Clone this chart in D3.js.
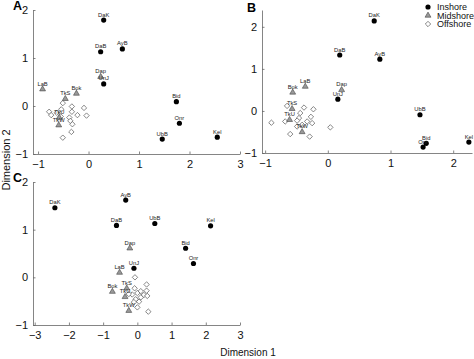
<!DOCTYPE html>
<html><head><meta charset="utf-8">
<script src="https://cdn.jsdelivr.net/npm/d3@7"></script>
<style>body{margin:0;background:#fff}svg{display:block;font-family:"Liberation Sans",Arial,sans-serif}</style>
</head><body><svg id="c" width="474" height="359"></svg>
<script>
// ---- data ----
const inshoreNames = ["DaK","DaB","AyB","UnJ","Bid","Onr","UbB","Kel"];
const midshoreNames = ["Dap","LaB","Bok","TkS","TkU","TkW"];

const aInshore = [[0.30,1.79],[0.24,1.13],[0.67,1.19],[0.30,0.46],[1.74,0.09],[1.80,-0.36],[1.46,-0.69],[2.55,-0.65]];
const aMidshore = [[0.24,0.61],[-0.91,0.35],[-0.24,0.26],[-0.46,0.15],[-0.58,-0.24],[-0.59,-0.40]];
const aOffshore = [[-0.51,0.06],[-0.33,-0.01],[-0.09,-0.04],[-0.78,-0.12],[-0.54,-0.07],[-0.33,-0.12],[-0.22,-0.19],[-0.04,-0.20],[-0.74,-0.19],[-0.55,-0.22],[-0.38,-0.24],[-0.36,-0.31],[-0.32,-0.38],[-0.34,-0.54],[-0.51,-0.66],[-0.63,-0.14]];

const bInshore = [[0.74,2.14],[0.19,1.33],[0.83,1.23],[0.16,0.28],[1.57,-0.77],[1.52,-0.86],[1.47,-0.09],[2.25,-0.74]];
const bMidshore = [[0.22,0.50],[-0.36,0.58],[-0.56,0.44],[-0.57,0.05],[-0.61,-0.21],[-0.41,-0.50]];
const bOffshore = [[-0.90,-0.28],[-0.65,0.12],[-0.38,0.08],[-0.23,0.04],[-0.68,-0.25],[-0.44,-0.05],[-0.46,-0.17],[-0.49,-0.23],[-0.27,-0.14],[-0.33,-0.25],[-0.25,-0.29],[-0.60,-0.55],[-0.29,-0.61],[0.04,-0.39],[-0.49,-0.37],[-0.41,-0.33]];

const cInshore = [[-2.41,1.46],[-0.61,1.09],[-0.34,1.62],[-0.10,0.19],[1.41,0.61],[1.64,0.29],[0.51,1.13],[2.14,1.08]];
const cMidshore = [[-0.22,0.61],[-0.52,0.10],[-0.73,-0.30],[-0.31,-0.23],[-0.36,-0.41],[-0.25,-0.70]];
const cOffshore = [[-0.07,0.00],[0.27,-0.15],[-0.08,-0.23],[0.10,-0.29],[0.27,-0.28],[0.00,-0.33],[-0.15,-0.36],[0.19,-0.37],[0.29,-0.39],[0.10,-0.42],[-0.05,-0.46],[0.05,-0.51],[-0.10,-0.52],[0.00,-0.63],[0.32,-0.72],[-0.25,-0.35]];

const aXTicks = [-1,0,1,2,3], aYTicks = [-1,0,1,2];
const bXTicks = [-1,0,1,2], bYTicks = [-1,0,1,2];
const cXTicks = [-3,-2,-1,0,1,2,3], cYTicks = [-1,0,1,2];
const legendLabels = ["Inshore","Midshore","Offshore"];

// ---- layout ----
const svg = d3.select("#c");
const panels = [
  {letter:"A", ins:aInshore, mid:aMidshore, off:aOffshore, xd:[-1.1,3], xr:[33,240], yd:[-1,2], yr:[154,10], xt:aXTicks, yt:aYTicks, lx:13, ly:10},
  {letter:"B", ins:bInshore, mid:bMidshore, off:bOffshore, xd:[-1.05,2.3], xr:[262,472], yd:[-1,2.4], yr:[153,10], xt:bXTicks, yt:bYTicks, lx:247, ly:12},
  {letter:"C", ins:cInshore, mid:cMidshore, off:cOffshore, xd:[-3.05,3], xr:[33,240], yd:[-1,2], yr:[325,182], xt:cXTicks, yt:cYTicks, lx:13, ly:182}
];

const fmt = d => d < 0 ? "\u2212" + Math.abs(d) : String(d);
const circlePath = d3.symbol().type(d3.symbolCircle).size(21)();
const triPath = d3.symbol().type(d3.symbolTriangle).size(15)();
const diamondPath = "M0,-2.7L2.7,0L0,2.7L-2.7,0Z";

function drawMarker(g, kind, x, y) {
  if (kind === "off") g.append("path").attr("d", diamondPath).attr("transform", `translate(${x},${y})`).attr("fill","#fff").attr("stroke","#555").attr("stroke-width",0.7);
  else if (kind === "mid") g.append("path").attr("d", triPath).attr("transform", `translate(${x},${y})`).attr("fill","#999").attr("stroke","#444").attr("stroke-width",0.6);
  else g.append("path").attr("d", circlePath).attr("transform", `translate(${x},${y})`).attr("fill","#000");
}

panels.forEach(p => {
  const x = d3.scaleLinear().domain(p.xd).range(p.xr);
  const y = d3.scaleLinear().domain(p.yd).range(p.yr);
  const g = svg.append("g");
  const xa = g.append("g").attr("transform", `translate(0,${p.yr[0]})`)
    .call(d3.axisBottom(x).tickValues(p.xt).tickFormat(fmt).tickSizeInner(-2.5).tickSizeOuter(0).tickPadding(6));
  const ya = g.append("g").attr("transform", `translate(${p.xr[0]},0)`)
    .call(d3.axisLeft(y).tickValues(p.yt).tickFormat(fmt).tickSizeInner(-2.5).tickSizeOuter(0).tickPadding(5));
  [xa, ya].forEach(a => {
    a.select(".domain").attr("stroke","#666").attr("stroke-width",0.8);
    a.selectAll(".tick line").attr("stroke","#666").attr("stroke-width",0.8);
    a.selectAll("text").attr("font-size",11).attr("fill","#111").attr("font-family","'Liberation Sans',Arial,sans-serif");
  });
  const m = g.append("g");
  p.off.forEach(d => drawMarker(m, "off", x(d[0]), y(d[1])));
  p.mid.forEach(d => drawMarker(m, "mid", x(d[0]), y(d[1])));
  p.ins.forEach(d => drawMarker(m, "ins", x(d[0]), y(d[1])));
  const lab = g.append("g").attr("font-size",5.8).attr("fill","#222").attr("text-anchor","middle");
  p.mid.forEach((d,i) => lab.append("text").attr("x", x(d[0])).attr("y", y(d[1]) - 3.5).text(midshoreNames[i]));
  p.ins.forEach((d,i) => lab.append("text").attr("x", x(d[0])).attr("y", y(d[1]) - 3.5).text(inshoreNames[i]));
  g.append("text").attr("x", p.lx).attr("y", p.ly).attr("font-size",12.5).attr("font-weight","bold").text(p.letter);
});

// legend
const lg = svg.append("g");
legendLabels.forEach((t,i) => {
  const yy = 7 + i*8.5;
  drawMarker(lg, ["ins","mid","off"][i], 428, yy);
  lg.append("text").attr("x", 437).attr("y", yy).attr("dy","0.35em").attr("font-size",9).attr("fill","#111").text(t);
});

// axis titles
svg.append("text").attr("x", 248).attr("y", 356).attr("text-anchor","middle").attr("font-size",10).attr("fill","#111").text("Dimension 1");
svg.append("text").attr("transform","translate(10,160) rotate(-90)").attr("text-anchor","middle").attr("font-size",11).attr("fill","#111").text("Dimension 2");
</script></body></html>
